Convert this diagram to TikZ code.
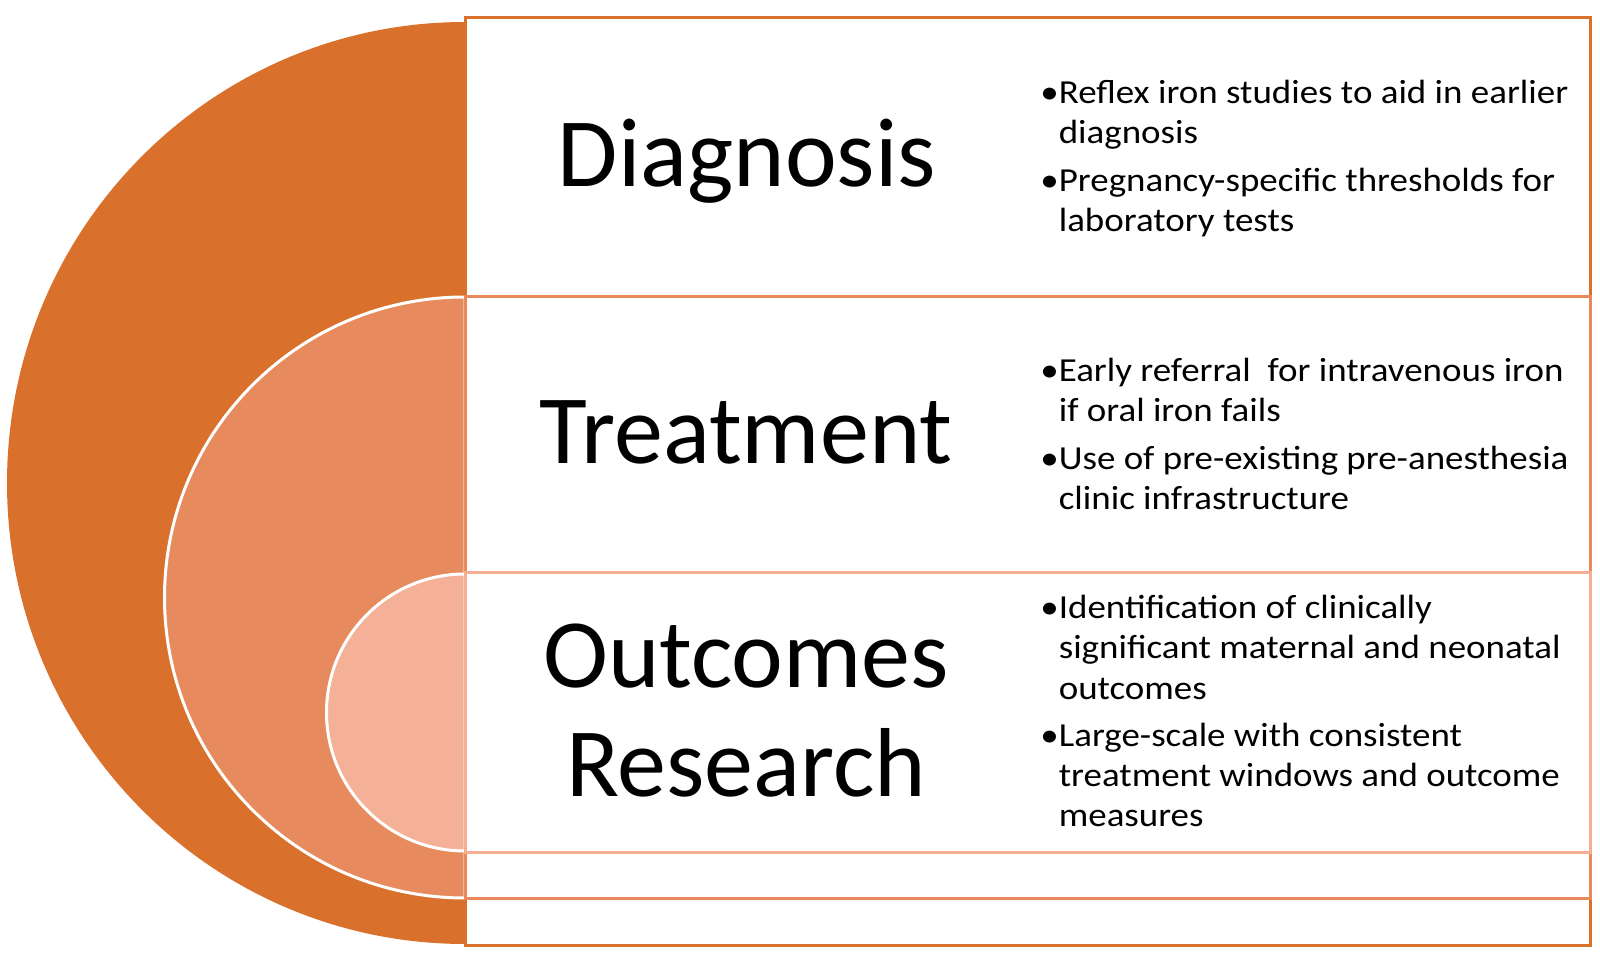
\documentclass[tikz,border=0pt]{standalone}
\usepackage{fontspec}
\setmainfont{Carlito}
\newfontfamily\listfont{Carlito}[FakeStretch=1.1]
\definecolor{ringdark}{HTML}{D9712C}
\definecolor{ringmid}{HTML}{E78B5F}
\definecolor{ringlight}{HTML}{F4B198}
\definecolor{edgemid}{HTML}{E9895C}
\definecolor{edgelight}{HTML}{F5AE92}

\begin{document}
\begin{tikzpicture}[x=0.5pt, y=-0.5pt,
	title/.style = {anchor=base, inner sep=0, font=\fontsize{49}{53}\selectfont},
	bullets/.style = {anchor=base west, inner sep=0, font=\listfont\fontsize{16.8}{20}\selectfont},
	panel/.style = {line width=1.5pt, fill=white}]
	\useasboundingbox (0,0) rectangle (1600,961);
	% half discs on the left
	\fill [ringdark] (465,22) arc [start angle=90, end angle=270, x radius=229pt, y radius=230.5pt] -- cycle;
	\filldraw [fill=ringmid, draw=white, line width=1.5pt] (465,297) arc [start angle=90, end angle=270, radius=150.25pt] -- cycle;
	\filldraw [fill=ringlight, draw=white, line width=1.5pt] (465,574) arc [start angle=90, end angle=270, radius=69.25pt] -- cycle;
	% the three boxes
	\draw [panel, draw=ringdark] (465,18) rectangle (1590,945);
	\draw [panel, draw=edgemid] (465,297) rectangle (1590,898);
	\draw [panel, draw=edgelight] (465,573) rectangle (1590,852);
	% titles
	\node [title] (diag) at (747,187) {Diagnosis};
	\node [title] (treat) at (746,464) {Treatment};
	\node [title] (outc) at (746,688) {Outcomes};
	\node [title] (res) at (746,796) {Research};
	% bullet lists
	\node [bullets] (diaglist) at (1040,104) {\begin{tabular}[t]{@{}l@{}l@{}}
		•&Reflex iron studies to aid in earlier\\
		&diagnosis\\[4pt]
		•&Pregnancy-specific thresholds for\\
		&laboratory tests
		\end{tabular}};
	\node [bullets] (treatlist) at (1040,382) {\begin{tabular}[t]{@{}l@{}l@{}}
		•&Early referral\ \ for intravenous iron\\
		&if oral iron fails\\[4pt]
		•&Use of pre-existing pre-anesthesia\\
		&clinic infrastructure
		\end{tabular}};
	\node [bullets] (outclist) at (1040,619) {\begin{tabular}[t]{@{}l@{}l@{}}
		•&Identification of clinically\\
		&significant maternal and neonatal\\
		&outcomes\\[4pt]
		•&Large-scale with consistent\\
		&treatment windows and outcome\\
		&measures
		\end{tabular}};
\end{tikzpicture}
\end{document}
